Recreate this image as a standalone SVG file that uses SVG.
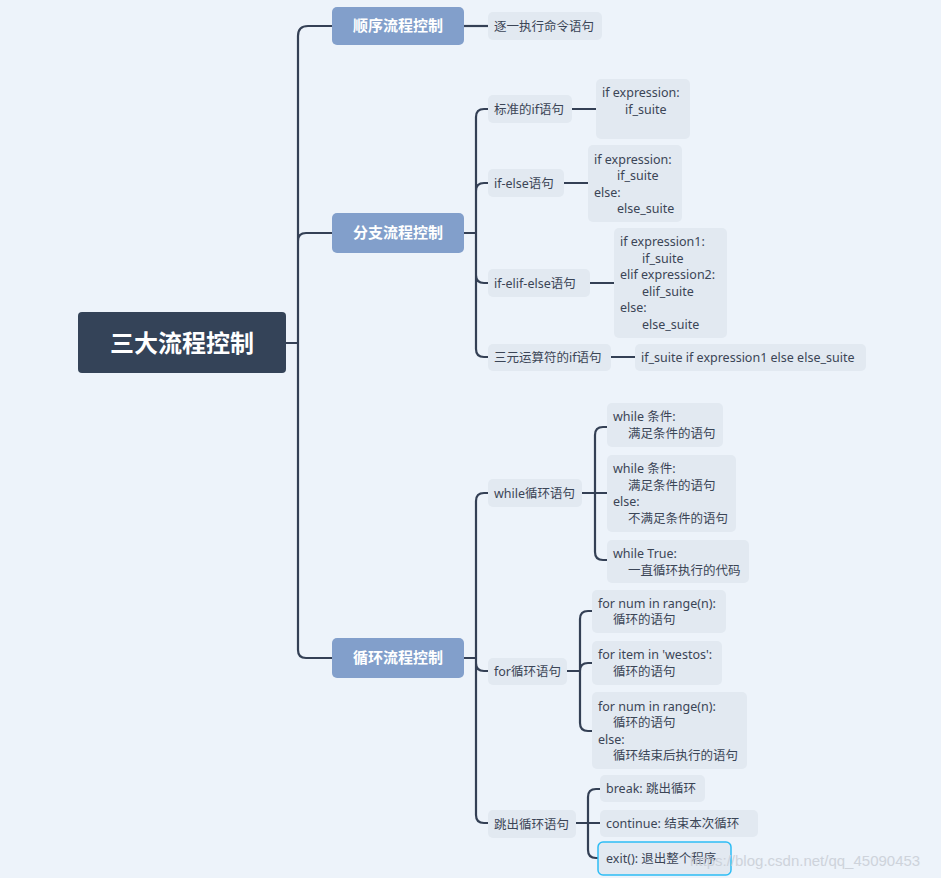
<svg xmlns="http://www.w3.org/2000/svg" width="941" height="878" viewBox="0 0 941 878">
<style>
text{font-family:"Noto Sans","Noto Sans CJK SC",sans-serif;fill:#3b4556;font-size:12.5px}
.lf{fill:#e2e9f1}
.br{fill:#829fcb}
.bt{fill:#fff;font-weight:bold;font-size:15px;text-anchor:middle}
.c{fill:none;stroke:#344055;stroke-width:2.2}
</style>
<rect width="941" height="878" fill="#edf3fa"/>
<g id="connectors">
<path class="c" d="M286,343H298M298,36V650Q298,658 306,658H332M298,36Q298,26 308,26H332M298,241Q298,233 306,233H332"/>
<path class="c" d="M464,26H488"/>
<path class="c" d="M464,233H476M476,117Q476,109 484,109H488M476,117V349Q476,357 484,357H488M476,191Q476,183 484,183H488M476,275Q476,283 484,283H488"/>
<path class="c" d="M572,109H596M564,183H588M590,283H614M611,357H635"/>
<path class="c" d="M464,658H476M476,501Q476,493 484,493H488M476,501V815Q476,823 484,823H488M476,663Q476,671 484,671H488"/>
<path class="c" d="M582,493H607M595,435Q595,427 603,427H607M595,435V552Q595,560 603,560H607"/>
<path class="c" d="M567,671H580M580,619Q580,611 588,611H592M580,619V723Q580,731 588,731H592M580,671Q580,663 588,663H592"/>
<path class="c" d="M576,823H600M588,797Q588,789 596,789H600M588,797V850Q588,858 596,858H600"/>
</g>
<g id="root"><rect x="78" y="312" width="208" height="61" rx="4" fill="#344358"/><text x="182" y="352" style="fill:#fff;font-weight:bold;font-size:24px;text-anchor:middle">三大流程控制</text></g>
<g id="b1"><rect class="br" x="332" y="7" width="132" height="38" rx="5"/><text class="bt" x="398" y="31">顺序流程控制</text></g>
<g id="b2"><rect class="br" x="332" y="213" width="132" height="40" rx="5"/><text class="bt" x="398" y="238">分支流程控制</text></g>
<g id="b3"><rect class="br" x="332" y="638" width="132" height="40" rx="5"/><text class="bt" x="398" y="663">循环流程控制</text></g>
<g id="l1"><rect class="lf" x="488" y="12" width="114" height="28" rx="5"/><text x="494" y="31">逐一执行命令语句</text></g>
<g id="s1"><rect class="lf" x="488" y="95" width="84" height="28" rx="5"/><text x="494" y="114">标准的if语句</text></g>
<g id="s1l"><rect class="lf" x="596" y="79" width="94" height="60" rx="5"/><text x="602" y="97">if expression:</text><text x="625" y="114">if_suite</text></g>
<g id="s2"><rect class="lf" x="488" y="169" width="76" height="28" rx="5"/><text x="494" y="188">if-else语句</text></g>
<g id="s2l"><rect class="lf" x="588" y="145" width="94" height="77" rx="5"/><text x="594" y="164">if expression:</text><text x="617" y="180">if_suite</text><text x="594" y="197">else:</text><text x="617" y="213">else_suite</text></g>
<g id="s3"><rect class="lf" x="488" y="269" width="102" height="28" rx="5"/><text x="494" y="288">if-elif-else语句</text></g>
<g id="s3l"><rect class="lf" x="614" y="228" width="113" height="110" rx="5"/><text x="620" y="246">if expression1:</text><text x="642" y="263">if_suite</text><text x="620" y="279">elif expression2:</text><text x="642" y="296">elif_suite</text><text x="620" y="312">else:</text><text x="642" y="329">else_suite</text></g>
<g id="s4"><rect class="lf" x="488" y="344" width="123" height="27" rx="5"/><text x="494" y="362">三元运算符的if语句</text></g>
<g id="s4l"><rect class="lf" x="635" y="344" width="231" height="27" rx="5"/><text x="641" y="362">if_suite if expression1 else else_suite</text></g>
<g id="w"><rect class="lf" x="488" y="479" width="94" height="28" rx="5"/><text x="494" y="498">while循环语句</text></g>
<g id="w1"><rect class="lf" x="607" y="403" width="116" height="44" rx="5"/><text x="613" y="421">while 条件:</text><text x="628" y="438">满足条件的语句</text></g>
<g id="w2"><rect class="lf" x="607" y="455" width="129" height="77" rx="5"/><text x="613" y="473">while 条件:</text><text x="628" y="490">满足条件的语句</text><text x="613" y="506">else:</text><text x="628" y="523">不满足条件的语句</text></g>
<g id="w3"><rect class="lf" x="607" y="540" width="142" height="43" rx="5"/><text x="613" y="558">while True:</text><text x="628" y="575">一直循环执行的代码</text></g>
<g id="f"><rect class="lf" x="488" y="658" width="79" height="27" rx="5"/><text x="494" y="676">for循环语句</text></g>
<g id="f1"><rect class="lf" x="592" y="590" width="134" height="43" rx="5"/><text x="598" y="608">for num in range(n):</text><text x="613" y="624">循环的语句</text></g>
<g id="f2"><rect class="lf" x="592" y="641" width="130" height="44" rx="5"/><text x="598" y="659">for item in 'westos':</text><text x="613" y="676">循环的语句</text></g>
<g id="f3"><rect class="lf" x="592" y="692" width="155" height="77" rx="5"/><text x="598" y="711">for num in range(n):</text><text x="613" y="727">循环的语句</text><text x="598" y="744">else:</text><text x="613" y="760">循环结束后执行的语句</text></g>
<g id="j"><rect class="lf" x="488" y="810" width="88" height="28" rx="5"/><text x="494" y="829">跳出循环语句</text></g>
<g id="j1"><rect class="lf" x="600" y="775" width="105" height="27" rx="5"/><text x="606" y="793">break: 跳出循环</text></g>
<g id="j2"><rect class="lf" x="600" y="810" width="158" height="27" rx="5"/><text x="606" y="828">continue:  结束本次循环</text></g>
<g id="j3"><rect class="lf" x="598" y="842" width="133" height="33" rx="5" stroke="#2ebdf5" stroke-width="1.5"/><text x="606" y="863">exit(): 退出整个程序</text></g>
<text x="690" y="866" style="fill:#c9ced6;font-size:15px;font-family:'Liberation Sans',sans-serif;opacity:0.85">https://blog.csdn.net/qq_45090453</text>
</svg>
